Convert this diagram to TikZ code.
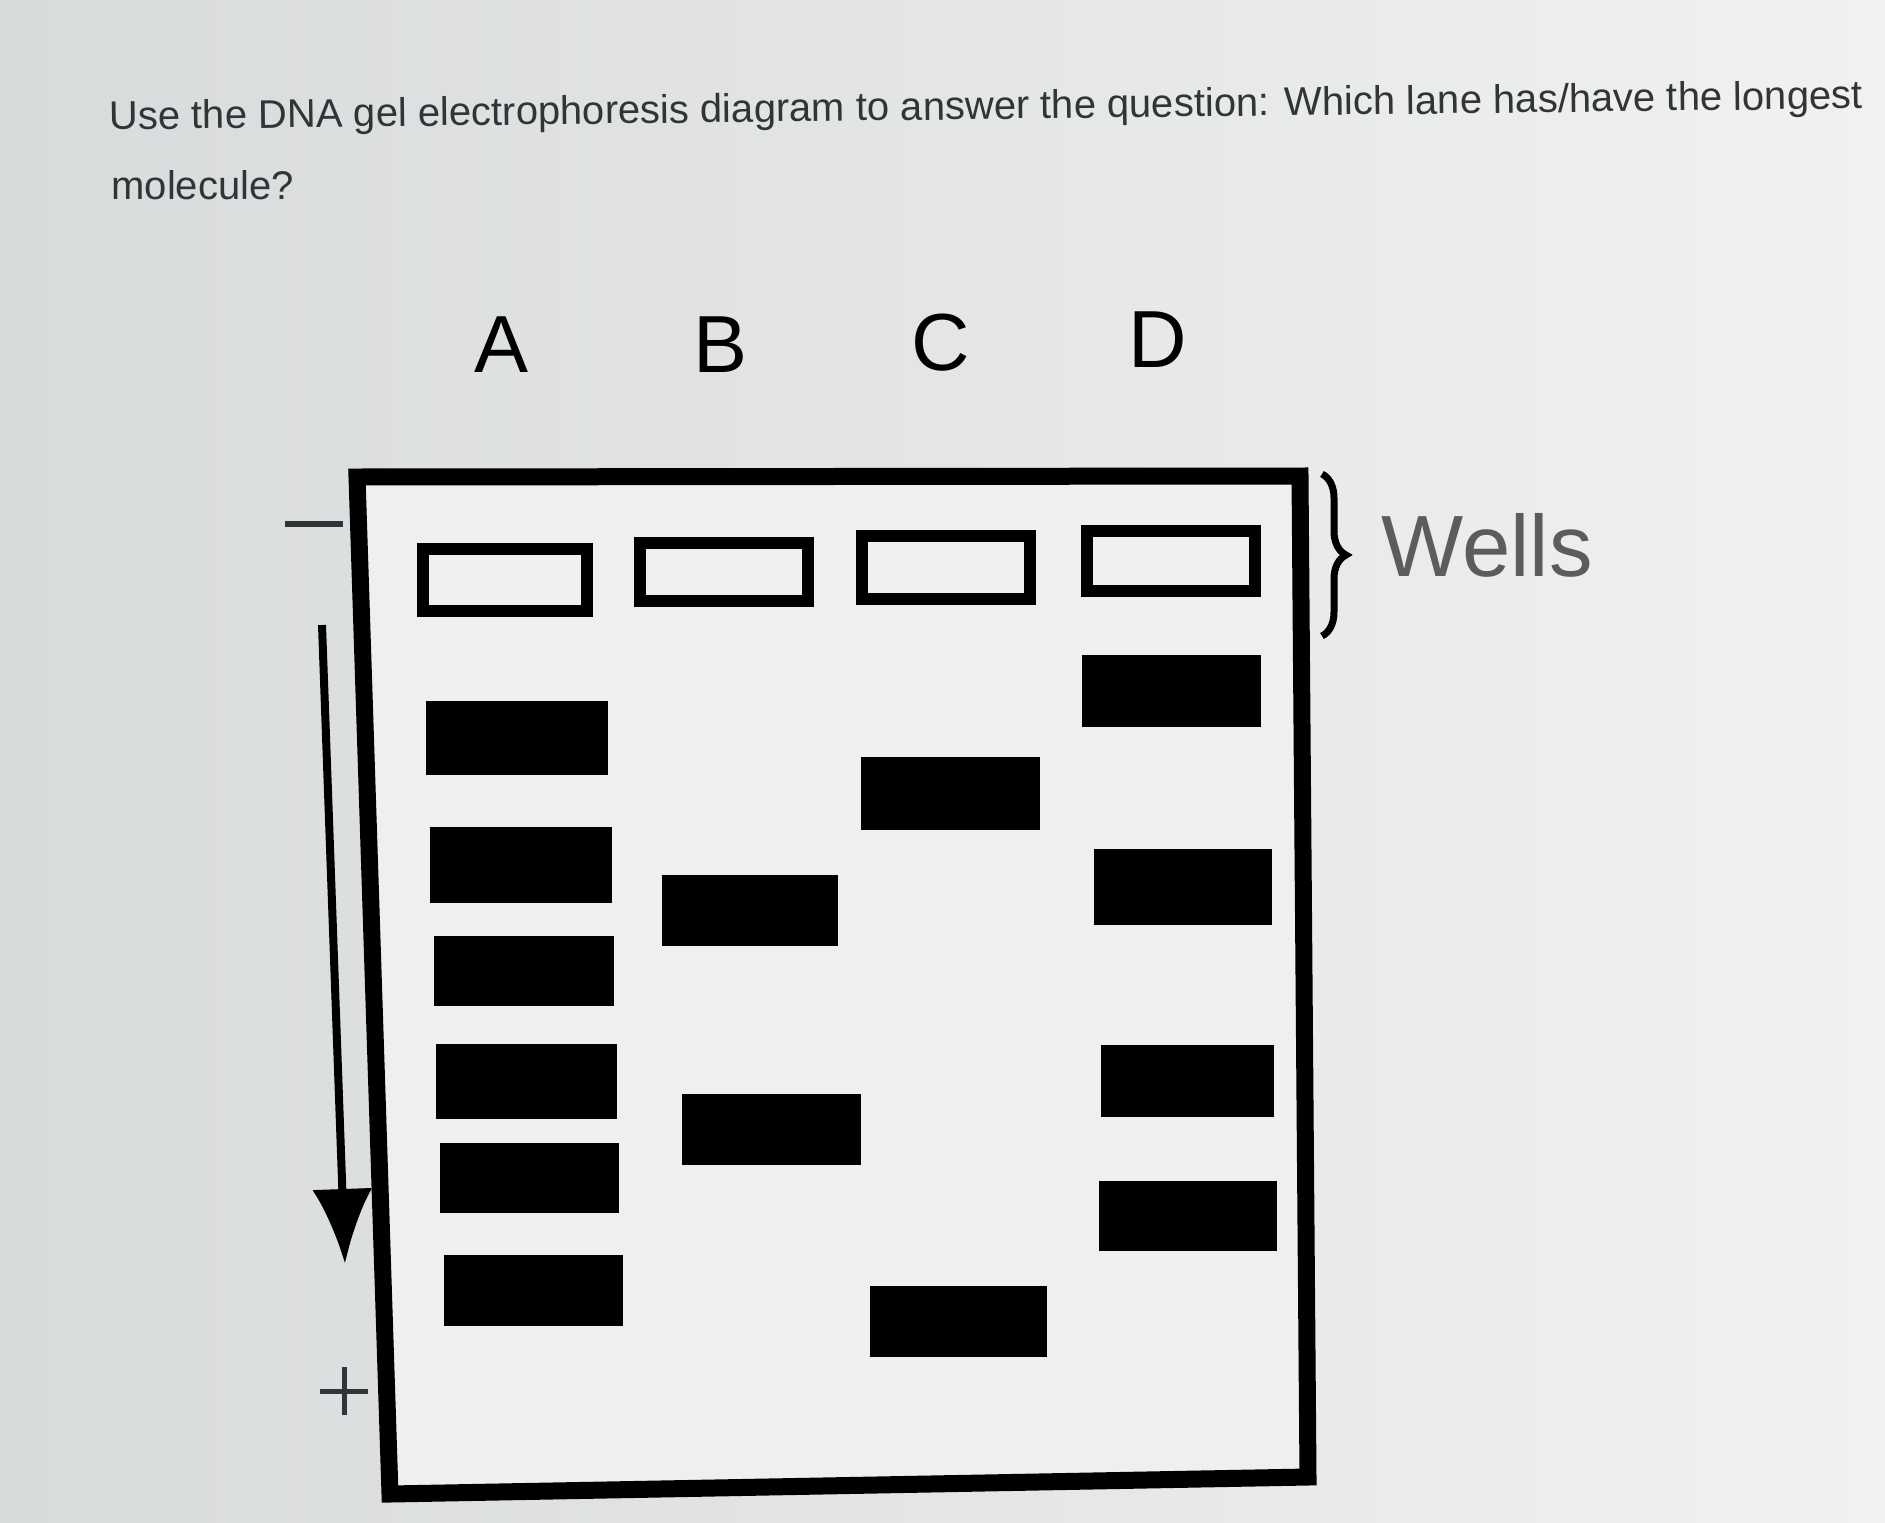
\documentclass[tikz,border=0pt]{standalone}
\usepackage{fontspec}
\setmainfont{Liberation Sans}
\usetikzlibrary{arrows.meta,decorations.pathreplacing}
\definecolor{photogray}{RGB}{216,219,219}
\definecolor{photowhite}{RGB}{240,241,240}
\definecolor{gelwhite}{RGB}{238,239,238}
\definecolor{inkgray}{RGB}{50,53,55}
\definecolor{wellsgray}{RGB}{90,92,94}
\begin{document}
\begin{tikzpicture}[x=1pt,y=-1pt]
	\useasboundingbox (0,0) rectangle (1885,1523);
	\fill[left color=photogray,right color=photowhite] (0,0) rectangle (1885,1523);
	% question
	\node[anchor=base west,rotate=0.7,text=inkgray,font=\fontsize{40}{48}\selectfont] (question) at (106,130) {Use the DNA gel electrophoresis diagram to answer the question: Which lane has/have the longest};
	\node[anchor=base west,text=inkgray,font=\fontsize{40}{48}\selectfont] (molecule) at (108,199) {molecule?};
	% lane letters
	\node[font=\fontsize{81}{90}\selectfont] (laneA) at (502,345) {A};
	\node[font=\fontsize{81}{90}\selectfont] (laneB) at (721,345) {B};
	\node[font=\fontsize{81}{90}\selectfont] (laneC) at (941,343) {C};
	\node[font=\fontsize{81}{90}\selectfont] (laneD) at (1158,340) {D};
	% gel
	\fill[gelwhite] (357,477) -- (1300,476) -- (1308,1477) -- (390,1494) -- cycle;
	\draw[line width=17pt] (357,477) -- (1300,476) -- (1308,1477) -- (390,1494) -- cycle;
	% wells
	\draw[line width=12pt] (423,549) rectangle (587,611);
	\draw[line width=12pt] (640,543) rectangle (808,601);
	\draw[line width=12pt] (862,536) rectangle (1030,599);
	\draw[line width=12pt] (1087,531) rectangle (1255,591);
	% bands
	\fill (426,701) rectangle (608,775);
	\fill (430,827) rectangle (612,903);
	\fill (434,936) rectangle (614,1006);
	\fill (436,1044) rectangle (617,1119);
	\fill (440,1143) rectangle (619,1213);
	\fill (444,1255) rectangle (623,1326);
	\fill (662,875) rectangle (838,946);
	\fill (682,1094) rectangle (861,1165);
	\fill (861,757) rectangle (1040,830);
	\fill (870,1286) rectangle (1047,1357);
	\fill (1082,655) rectangle (1261,727);
	\fill (1094,849) rectangle (1272,925);
	\fill (1101,1045) rectangle (1274,1117);
	\fill (1099,1181) rectangle (1277,1251);
	% electrodes and direction
	\draw[line width=6pt,inkgray] (285,524) -- (343,524);
	\coordinate (runtop) at (322,625);
	\coordinate (runend) at (345,1264);
	\draw[line width=8pt,-{Latex[length=75pt,width=60pt]}] (runtop) -- (runend);
	\draw[line width=5pt,inkgray] (320,1391) -- (368,1391) (344,1367) -- (344,1415);
	% wells label
	\coordinate (bracetop) at (1322,474);
	\coordinate (bracebot) at (1322,636);
	\draw[line width=7pt,decorate,decoration={brace,amplitude=24pt}] (bracetop) -- (bracebot);
	\node[anchor=west,text=wellsgray,font=\fontsize{87}{96}\selectfont] (wells) at (1378,545) {Wells};
\end{tikzpicture}
\end{document}
